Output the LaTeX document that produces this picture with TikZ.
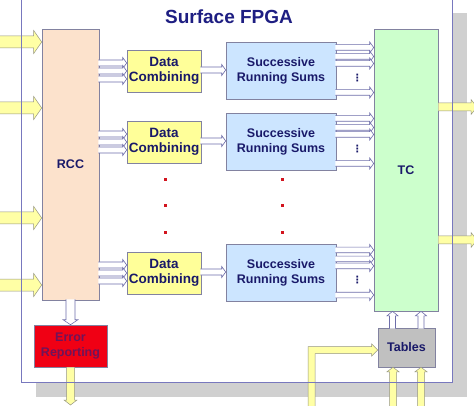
\documentclass[tikz,border=0pt]{standalone}
\usepackage{fontspec}
\setmainfont{Liberation Sans}
\newfontfamily\djv{DejaVu Sans}
\usetikzlibrary{calc}
\definecolor{navy}{RGB}{25,25,105}
\definecolor{titlec}{RGB}{30,30,130}
\definecolor{framec}{RGB}{120,120,190}
\definecolor{boxedge}{RGB}{130,130,160}
\definecolor{arrowedge}{RGB}{110,110,170}
\definecolor{rccfill}{RGB}{252,226,204}
\definecolor{dcfill}{RGB}{255,255,153}
\definecolor{srsfill}{RGB}{204,229,255}
\definecolor{tcfill}{RGB}{204,255,204}
\definecolor{tabfill}{RGB}{192,192,192}
\definecolor{errfill}{RGB}{240,0,20}
\definecolor{errtext}{RGB}{110,20,90}
\definecolor{yfill}{RGB}{255,255,165}
\definecolor{yedge}{RGB}{150,150,130}
\definecolor{shadowc}{RGB}{208,208,208}
\definecolor{dotc}{RGB}{210,20,30}
\tikzset{
  arws/.store in=\arws, arwh/.store in=\arwh, arwl/.store in=\arwl,
  arws=3pt, arwh=5.5pt, arwl=4pt,
  rgt/.style={to path={let \p1=(\tikztostart), \p2=(\tikztotarget) in
    (\x1,\y1+\arws) -- (\x2-\arwl,\y1+\arws) -- (\x2-\arwl,\y1+\arwh) -- (\x2,\y1)
    -- (\x2-\arwl,\y1-\arwh) -- (\x2-\arwl,\y1-\arws) -- (\x1,\y1-\arws)}},
  upw/.style={to path={let \p1=(\tikztostart), \p2=(\tikztotarget) in
    (\x1-\arws,\y1) -- (\x1-\arws,\y2-\arwl) -- (\x1-\arwh,\y2-\arwl) -- (\x1,\y2)
    -- (\x1+\arwh,\y2-\arwl) -- (\x1+\arws,\y2-\arwl) -- (\x1+\arws,\y1)}},
  dnw/.style={to path={let \p1=(\tikztostart), \p2=(\tikztotarget) in
    (\x1-\arws,\y1) -- (\x1-\arws,\y2+\arwl) -- (\x1-\arwh,\y2+\arwl) -- (\x1,\y2)
    -- (\x1+\arwh,\y2+\arwl) -- (\x1+\arws,\y2+\arwl) -- (\x1+\arws,\y1)}},
  hollow/.style={draw=arrowedge, fill=white, line width=0.6pt},
  yel/.style={draw=yedge, fill=yfill, line width=0.5pt},
  box/.style={draw=boxedge, line width=0.6pt, text=navy, align=center, inner sep=0pt,
    font=\bfseries\fontsize{12.5}{15}\selectfont},
}
\begin{document}
\begin{tikzpicture}[x=1pt, y=-1pt]
\useasboundingbox (0,0) rectangle (474,406);
% frame and shadow
\fill[shadowc] (36,13) rectangle (467,397);
\fill[white] (21,-3) rectangle (452,382);
\node[text=titlec, font=\bfseries\fontsize{19}{22}\selectfont] (title) at (229,17) {Surface FPGA};
% boxes
\node[box, fill=rccfill, minimum width=57pt, minimum height=271pt] (rcc) at (70.5,164.5) {RCC};
\node[box, fill=dcfill, minimum width=74pt, minimum height=42pt, font=\bfseries\fontsize{13.5}{15.5}\selectfont] (dc1) at (164,71) {Data\\Combining};
\node[box, fill=dcfill, minimum width=74pt, minimum height=42pt, font=\bfseries\fontsize{13.5}{15.5}\selectfont] (dc2) at (164,142) {Data\\Combining};
\node[box, fill=dcfill, minimum width=74pt, minimum height=42pt, font=\bfseries\fontsize{13.5}{15.5}\selectfont] (dc3) at (164,273) {Data\\Combining};
\node[box, fill=srsfill, minimum width=110pt, minimum height=57pt] (srs1) at (281,70.5) {Successive\\Running Sums};
\node[box, fill=srsfill, minimum width=110pt, minimum height=57pt] (srs2) at (281,141.5) {Successive\\Running Sums};
\node[box, fill=srsfill, minimum width=110pt, minimum height=57pt] (srs3) at (281,273) {Successive\\Running Sums};
\node[box, fill=tcfill, minimum width=64pt, minimum height=282pt] (tc) at (406,170) {TC};
\node[box, fill=tabfill, minimum width=57pt, minimum height=39pt] (tables) at (406.5,347.5) {Tables};
\node[box, fill=errfill, text=errtext, minimum width=73pt, minimum height=42pt] (error) at (70.5,346) {Error\\Reporting};
% vertical ellipses
\foreach \d in {1,2,3}
  \node[text=navy, font=\djv\bfseries\fontsize{10}{10}\selectfont, inner sep=0pt] (vd\d) at ($(srs\d.east)+(21,7.5)$) {⋮};
\foreach \x in {165.7,282.7}
  \foreach \y in {180,206,233}
    \fill[dotc] (\x-1.5,\y-1.5) rectangle (\x+1.5,\y+1.5);
% input arrows
\coordinate (i1) at (-1,42);
\coordinate (i2) at (-1,108);
\coordinate (i3) at (-1,218);
\coordinate (i4) at (-1,285);
\foreach \k in {1,2,3,4}
  \draw[yel, rgt, arws=6pt, arwh=11.5pt, arwl=8pt] (i\k) to (rcc.west);
% RCC to DC
\foreach \d in {1,2,3}
  \foreach \o in {-8,0,8}
    \draw[hollow, rgt] ($(rcc.east |- dc\d.west)+(-1,\o)$) to (dc\d.west);
% DC to SRS
\foreach \d in {1,2,3}
  \draw[hollow, rgt] ($(dc\d.east)+(-1,-1)$) to (srs\d.west);
% SRS to TC
\foreach \d in {1,2,3}
  \foreach \o in {-23,-14,-7,22}
    \draw[hollow, rgt, arws=2.8pt] ($(srs\d.east)+(-1,\o)$) to (tc.west);
% TC outputs
\coordinate (o1) at (477,107);
\coordinate (o2) at (477,240);
\draw[yel, rgt, arws=4pt, arwh=7.5pt, arwl=6pt] (tc.east |- o1) to (o1);
\draw[yel, rgt, arws=4pt, arwh=7.5pt, arwl=6pt] (tc.east |- o2) to (o2);
% Tables to TC
\draw[hollow, upw, arws=3pt, arwh=5.5pt, arwl=4.5pt] ($(tables.north)+(-14,1)$) to (tc.south);
\draw[hollow, upw, arws=3pt, arwh=5.5pt, arwl=4.5pt] ($(tables.north)+(14.5,1)$) to (tc.south);
% RCC to Error
\draw[hollow, dnw, arws=4.5pt, arwh=7.5pt, arwl=5pt] ($(rcc.south)+(0,-1)$) to (error.north);
% Error output
\coordinate (eo) at (71,405);
\draw[yel, dnw, arws=4pt, arwh=6.5pt, arwl=5pt] (error.south) to (eo);
% Tables inputs
\coordinate (b1) at (393,409);
\coordinate (b2) at (421,409);
\coordinate (b0) at (311.5,409);
\draw[yel, upw, arws=3.5pt, arwh=6pt, arwl=4.5pt] (b1) to (tables.south);
\draw[yel, upw, arws=3.5pt, arwh=6pt, arwl=4.5pt] (b2) to (tables.south);
\draw[yel] let \p1=(b0), \p2=($(tables.west)+(0,2.5)$) in
  (\x1-3.5pt,\y1) -- (\x1-3.5pt,\y2+3.5pt) -- (\x2-6pt,\y2+3.5pt) -- (\x2-6pt,\y2+6pt)
  -- (\x2,\y2) -- (\x2-6pt,\y2-6pt) -- (\x2-6pt,\y2-3.5pt) -- (\x1+3.5pt,\y2-3.5pt) -- (\x1+3.5pt,\y1);
% frame border
\draw[framec, line width=0.8pt] (21,-3) rectangle (452,382);
\end{tikzpicture}
\end{document}
